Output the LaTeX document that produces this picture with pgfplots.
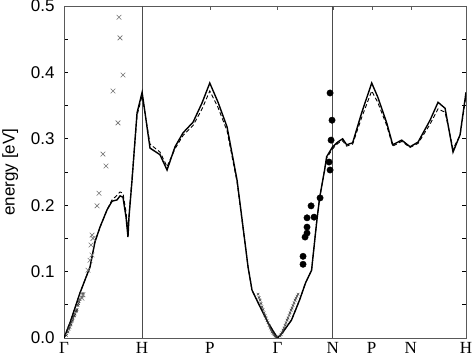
\documentclass[border=0pt]{standalone}
\usepackage{fontspec}
\setmainfont{Liberation Sans}
\newfontfamily\seriffont{Liberation Serif}
\usepackage{pgfplots}
\pgfplotsset{compat=1.18}
\begin{document}
\begin{tikzpicture}
\useasboundingbox (-64bp,-18bp) rectangle (410bp,338bp);
\begin{axis}[
  at={(0,0)}, anchor=south west,
  scale only axis, width=402bp, height=332bp,
  xmin=0, xmax=5.146, ymin=0, ymax=0.5,
  axis line style={black!65, line width=0.7bp},
  xtick={0,1,1.866,2.732,3.439,3.939,4.439,5.146},
  xticklabels={{\seriffont Γ},{\seriffont H},{\seriffont P},{\seriffont Γ},{\seriffont N},{\seriffont P},{\seriffont N},{\seriffont H}},
  xtick pos=right, xticklabel pos=left,
  x tick style={black!65},
  ytick={0,0.1,0.2,0.3,0.4,0.5},
  minor ytick={0.05,0.15,0.25,0.35,0.45},
  y tick style={black, line width=0.7bp},
  major tick length=4bp, minor tick length=4bp,
  tick align=inside,
  yticklabel style={/pgf/number format/fixed,/pgf/number format/precision=1,/pgf/number format/fixed zerofill, xshift=-6bp},
  /pgf/number format/assume math mode=true,
  tick label style={font=\fontsize{17bp}{20bp}\selectfont},
  xticklabel style={yshift=-1bp},
  ylabel={energy [eV]},
  every axis y label/.style={at={(axis description cs:-0.154,0.5)}, anchor=north, rotate=90, inner sep=0pt, font=\fontsize{17bp}{20bp}\selectfont},
  clip=true,
]
% vertical lines at H and N
\addplot [black!70, line width=0.7bp] coordinates {(1,0) (1,0.5)};
\addplot [black!70, line width=0.7bp] coordinates {(3.439,0) (3.439,0.5)};
% small experimental crosses (dense)
\addplot [only marks, mark=x, mark size=1.8bp, black!80, mark options={line width=0.5bp}] coordinates {
(0.030,0.004)(0.051,0.009)(0.064,0.013)(0.077,0.016)(0.090,0.020)(0.102,0.025)(0.115,0.030)(0.128,0.033)(0.141,0.036)(0.154,0.040)(0.166,0.043)(0.179,0.049)(0.192,0.055)(0.205,0.058)(0.230,0.062)(0.243,0.067)
(0.060,0.015)(0.085,0.022)(0.110,0.027)(0.135,0.034)(0.160,0.041)(0.185,0.052)
(2.484,0.066)(2.497,0.061)(2.510,0.057)(2.522,0.052)(2.535,0.047)(2.548,0.043)(2.561,0.038)(2.574,0.034)(2.587,0.030)(2.600,0.026)(2.612,0.023)(2.625,0.019)(2.638,0.015)(2.651,0.012)(2.663,0.009)(2.676,0.007)(2.689,0.005)(2.702,0.003)(2.715,0.002)
(2.766,0.003)(2.779,0.005)(2.791,0.008)(2.804,0.012)(2.817,0.015)(2.830,0.019)(2.843,0.023)(2.856,0.027)(2.868,0.030)(2.881,0.034)(2.894,0.038)(2.907,0.042)(2.919,0.045)(2.932,0.049)(2.945,0.053)(2.958,0.057)(2.970,0.060)(2.983,0.063)(2.996,0.066)
};
% larger experimental crosses
\addplot [only marks, mark=x, mark size=3.3bp, black!55, mark options={line width=0.6bp}] coordinates {
(0.704,0.483)(0.717,0.452)(0.755,0.396)(0.627,0.372)(0.691,0.324)(0.499,0.277)(0.538,0.259)(0.448,0.218)(0.423,0.199)
(0.359,0.155)(0.371,0.150)(0.346,0.140)(0.359,0.125)(0.333,0.117)(0.307,0.102)(0.243,0.065)(0.230,0.060)
};
% filled circles
\addplot [only marks, mark=*, mark size=3.2bp, black] coordinates {
(3.406,0.369)(3.431,0.328)(3.419,0.298)(3.393,0.265)(3.406,0.253)(3.278,0.211)(3.163,0.199)(3.111,0.181)(3.201,0.182)(3.111,0.167)(3.111,0.158)(3.086,0.152)(3.060,0.123)(3.060,0.111)
};
% dashed curve
\addplot [black, line width=0.9bp, dash pattern=on 4bp off 2.5bp] coordinates {
(0,0)(0.077,0.023)(0.205,0.068)(0.333,0.107)(0.397,0.145)(0.461,0.167)(0.551,0.193)(0.615,0.208)(0.679,0.215)(0.717,0.220)(0.755,0.218)(0.794,0.190)(0.819,0.160)(0.832,0.185)(0.871,0.240)(0.935,0.335)(1.0,0.365)
(1.101,0.292)(1.229,0.280)(1.319,0.258)(1.421,0.285)(1.524,0.305)(1.652,0.320)(1.767,0.345)(1.866,0.372)(1.972,0.347)(2.087,0.312)(2.215,0.235)(2.292,0.165)
(2.356,0.107)(2.407,0.072)(2.510,0.047)(2.612,0.023)(2.732,0.0)(2.797,0.008)(2.912,0.027)(3.015,0.057)(3.092,0.083)(3.169,0.102)(3.233,0.173)(3.272,0.211)(3.336,0.253)(3.362,0.271)
(3.439,0.285)(3.503,0.293)(3.567,0.297)(3.618,0.289)(3.695,0.292)(3.810,0.332)(3.939,0.372)(4.016,0.355)(4.131,0.320)(4.208,0.289)(4.323,0.296)(4.430,0.287)(4.532,0.293)(4.686,0.322)(4.788,0.345)(4.878,0.340)(4.980,0.285)(5.070,0.305)(5.146,0.365)
};
% solid curve
\addplot [black, line width=1.4bp] coordinates {
(0,0)(0.077,0.023)(0.205,0.068)(0.333,0.107)(0.397,0.145)(0.461,0.167)(0.551,0.193)(0.615,0.206)(0.679,0.208)(0.717,0.214)(0.755,0.212)(0.794,0.182)(0.819,0.152)(0.832,0.182)(0.871,0.238)(0.935,0.339)(1.0,0.370)
(1.101,0.286)(1.229,0.276)(1.319,0.253)(1.421,0.288)(1.524,0.309)(1.652,0.325)(1.767,0.354)(1.866,0.384)(1.972,0.355)(2.087,0.318)(2.215,0.238)(2.292,0.167)
(2.356,0.107)(2.407,0.072)(2.510,0.047)(2.612,0.023)(2.732,0.0)(2.797,0.008)(2.912,0.027)(3.015,0.057)(3.092,0.083)(3.169,0.102)(3.233,0.173)(3.272,0.211)(3.336,0.253)(3.362,0.273)
(3.439,0.288)(3.503,0.295)(3.567,0.300)(3.618,0.291)(3.695,0.294)(3.810,0.339)(3.939,0.384)(4.016,0.363)(4.131,0.324)(4.208,0.291)(4.323,0.298)(4.430,0.288)(4.532,0.295)(4.686,0.328)(4.788,0.355)(4.878,0.346)(4.980,0.280)(5.070,0.306)(5.146,0.370)
};
\end{axis}
\end{tikzpicture}
\end{document}
